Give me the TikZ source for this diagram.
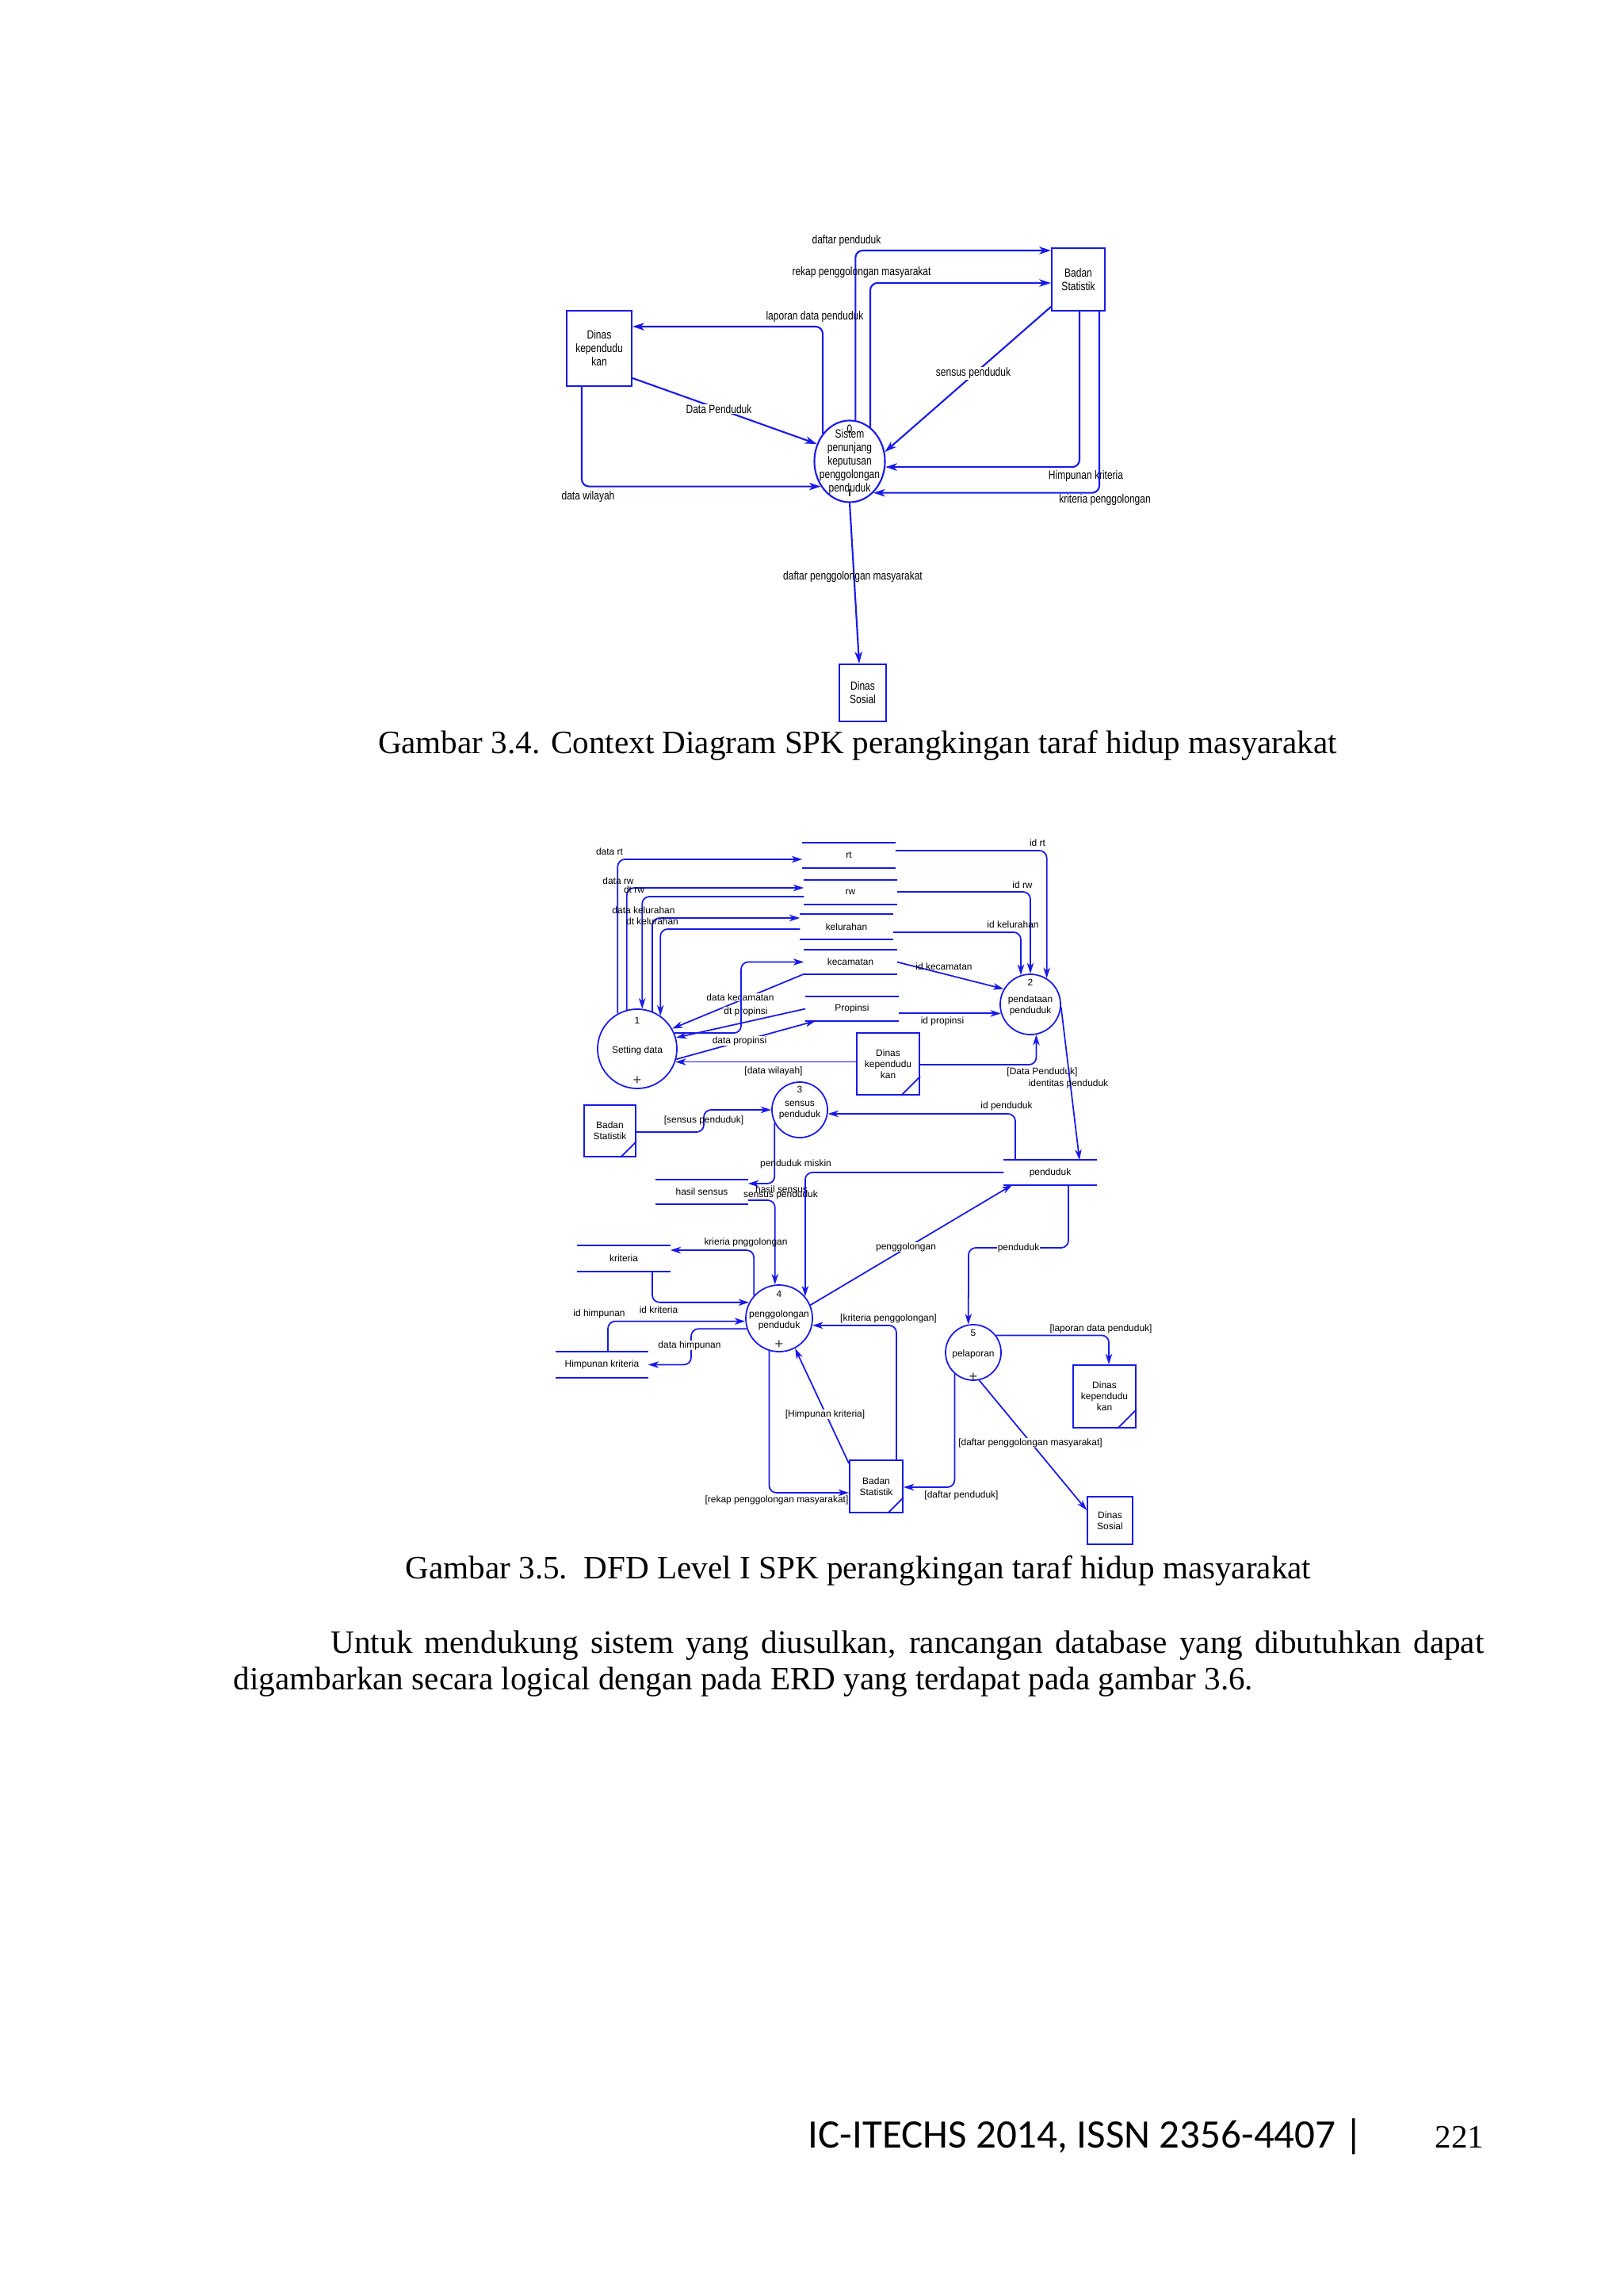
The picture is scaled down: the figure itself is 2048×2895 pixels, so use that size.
\documentclass[tikz,border=0pt]{standalone}
\usepackage{fontspec}
\setmainfont{Liberation Serif}
\newfontfamily\ctxf[FakeStretch=0.8]{Liberation Sans}
\newfontfamily\dfdf{Liberation Sans}
\newfontfamily\footf{Carlito}
\usetikzlibrary{arrows.meta,shapes.geometric}
\definecolor{dblue}{RGB}{25,25,235}
\tikzset{
 ctxt/.style={font={\ctxf\fontsize{4.27pt}{4.84pt}\selectfont},inner sep=0.2pt,align=center,text=black},
 dtxt/.style={font={\dfdf\fontsize{3.4pt}{3.98pt}\selectfont},inner sep=0.2pt,align=center,text=black},
 plus/.style={font={\dfdf\fontsize{5.2pt}{5.2pt}\selectfont},inner sep=0pt,text=black!80},
 cbox/.style={draw=dblue,line width=0.6pt,rectangle,inner sep=0pt,ctxt},
 cflow/.style={draw=dblue,line width=0.6pt,rounded corners=2.6pt,-{Stealth[length=4.2pt,width=2.7pt,inset=1.2pt]}},
 dbox/.style={draw=dblue,line width=0.5pt,rectangle,inner sep=0pt,dtxt},
 dproc/.style={draw=dblue,line width=0.5pt,circle,inner sep=0pt},
 dstore/.style={rectangle,inner sep=0pt,dtxt},
 dline/.style={draw=dblue,line width=0.5pt},
 dflow/.style={draw=dblue,line width=0.5pt,rounded corners=2.6pt,-{Stealth[length=3.8pt,width=2.4pt,inset=1.1pt]}},
 wl/.style={fill=white},
 captxt/.style={font={\fontsize{11.7pt}{14pt}\selectfont},inner sep=0pt},
}
\begin{document}
\begin{tikzpicture}[x=0.01cm,y=-0.01cm]
\path[use as bounding box] (0,0) rectangle (2048,2895);
\fill[white] (0,0) rectangle (2048,2895);

% ---------------- Context diagram ----------------
\node[cbox,minimum width=0.82cm,minimum height=0.95cm] (dk0) at (756,439.5) {Dinas\\kependudu\\kan};
\node[ellipse,draw=dblue,line width=0.6pt,minimum width=0.89cm,minimum height=1.03cm,inner sep=0pt] (p0) at (1072,582) {};
\node[ctxt] (p0t) at (1072,582.5) {Sistem\\penunjang\\keputusan\\penggolongan\\penduduk};
\node[ctxt] (p0n) at (1072,541) {0};
\draw[black!80,line width=0.35pt] ([yshift=0.09cm]p0.south) -- ([yshift=0.18cm]p0.south);
\node[cbox,minimum width=0.67cm,minimum height=0.79cm] (bs0) at (1360.5,352.5) {Badan\\Statistik};
\node[cbox,minimum width=0.59cm,minimum height=0.72cm] (ds0) at (1088.5,874) {Dinas\\Sosial};

\draw[cflow] (p0.82) |- (bs0.west |- 0,316);
\node[ctxt] (c1) at (1068,304) {daftar penduduk};
\draw[cflow] (p0.59) |- (bs0.west |- 0,357);
\node[ctxt] (c2) at (1087,344) {rekap penggolongan masyarakat};
\draw[cflow] (p0.134) |- (dk0.east |- 0,412);
\node[ctxt] (c3) at (1028,400) {laporan data penduduk};
\draw[cflow] (dk0.east |- 0,477) -- (p0.152);
\node[ctxt,wl] (c4) at (907,516) {Data Penduduk};
\draw[cflow] (dk0.south -| 734,0) |- (p0.221);
\node[ctxt] (c5) at (742,627) {data wilayah};
\draw[cflow] (bs0.west |- 0,387) -- (p0.15);
\node[ctxt,wl] (c6) at (1228,471) {sensus penduduk};
\draw[cflow] (bs0.south -| 1362,0) |- (p0.351);
\node[ctxt] (c7) at (1370,601) {Himpunan kriteria};
\draw[cflow] (bs0.south -| 1387,0) |- (p0.307);
\node[ctxt] (c8) at (1394,631) {kriteria penggolongan};
\draw[cflow] (p0.south) -- (ds0.north -| 1084,0);
\node[ctxt] (c9) at (1076,728) {daftar penggolongan masyarakat};

\node[captxt,anchor=base] (cap1) at (1082,950) {Gambar 3.4. Context Diagram SPK perangkingan taraf hidup masyarakat};

% ---------------- DFD level I ----------------
\node[dstore,minimum width=1.16cm,minimum height=0.30cm] (srt) at (1071,1079) {rt};
\node[dstore,minimum width=1.16cm,minimum height=0.29cm] (srw) at (1073,1125.5) {rw};
\node[dstore,minimum width=1.16cm,minimum height=0.30cm] (skel) at (1068,1169) {kelurahan};
\node[dstore,minimum width=1.16cm,minimum height=0.29cm] (skec) at (1073,1213.5) {kecamatan};
\node[dstore,minimum width=1.16cm,minimum height=0.29cm] (sprop) at (1075,1272.5) {Propinsi};
\node[dstore,minimum width=1.15cm,minimum height=0.29cm] (shas) at (885.5,1503.5) {hasil sensus};
\node[dstore,minimum width=1.16cm,minimum height=0.30cm] (spend) at (1325,1479) {penduduk};
\node[dstore,minimum width=1.16cm,minimum height=0.31cm] (skri) at (787,1587.5) {kriteria};
\node[dstore,minimum width=1.15cm,minimum height=0.31cm] (shim) at (759.5,1721.5) {Himpunan kriteria};
\foreach \s in {srt,srw,skel,skec,sprop,shas,spend,skri,shim}
  {\draw[dline] (\s.north west) -- (\s.north east) (\s.south west) -- (\s.south east);}

\node[dproc,minimum size=1.00cm] (p1) at (804,1323) {};
\node[dtxt] (p1a) at (804,1287) {1};
\node[dtxt] (p1b) at (804,1325) {Setting data};
\node[plus] (p1c) at (804,1363) {+};
\node[dproc,minimum size=0.76cm] (p2) at (1300,1267) {};
\node[dtxt] (p2a) at (1300,1239) {2};
\node[dtxt] (p2b) at (1300,1268) {pendataan\\penduduk};
\node[dproc,minimum size=0.70cm] (p3) at (1009,1400) {};
\node[dtxt] (p3a) at (1009,1374) {3};
\node[dtxt] (p3b) at (1009,1401) {sensus\\penduduk};
\node[dproc,minimum size=0.84cm] (p4) at (983,1663) {};
\node[dtxt] (p4a) at (983,1632) {4};
\node[dtxt] (p4b) at (983,1665.5) {penggolongan\\penduduk};
\node[plus] (p4c) at (983,1696) {+};
\node[dproc,minimum size=0.70cm] (p5) at (1228,1706) {};
\node[dtxt] (p5a) at (1228,1681) {5};
\node[dtxt] (p5b) at (1228,1708) {pelaporan};
\node[plus] (p5c) at (1228,1737) {+};

\node[dbox,minimum width=0.79cm,minimum height=0.78cm] (dk1) at (1120.5,1342) {Dinas\\kependudu\\kan};
\node[dbox,minimum width=0.65cm,minimum height=0.65cm] (bs1) at (769.5,1426.5) {Badan\\Statistik};
\node[dbox,minimum width=0.79cm,minimum height=0.79cm] (dk2) at (1393.5,1761.5) {Dinas\\kependudu\\kan};
\node[dbox,minimum width=0.57cm,minimum height=0.60cm] (ds1) at (1400.5,1918) {Dinas\\Sosial};
\node[dbox,minimum width=0.67cm,minimum height=0.66cm] (bs2) at (1105.5,1875) {Badan\\Statistik};
\foreach \e/\d in {dk1/0.24cm,bs1/0.20cm,dk2/0.24cm,bs2/0.20cm}
  {\draw[dline] ([xshift=-\d]\e.south east) -- ([yshift=\d]\e.south east);}

% process 1 flows
\draw[dflow] (p1.119) |- (srt.west |- 0,1084);
\node[dtxt] (d1) at (769,1074) {data rt};
\draw[dflow] (p1.105) |- (srw.west |- 0,1120);
\node[dtxt] (d2) at (780,1111) {data rw};
\draw[dflow] (srw.west |- 0,1131) -| (p1.83);
\node[dtxt] (d3) at (800,1122) {dt rw};
\draw[dflow] (p1.68) |- (skel.west |- 0,1158);
\node[dtxt] (d4) at (812,1148) {data kelurahan};
\draw[dflow] (skel.west |- 0,1172) -| (p1.55);
\node[dtxt] (d5) at (823,1162) {dt kelurahan};
\draw[dflow] (skec.south west) -- (p1.30);
\node[dtxt,wl] (d6) at (934,1258) {data kecamatan};
\draw[dflow] (sprop.west) -- (p1.16);
\node[dtxt,wl] (d7) at (941,1276) {dt propinsi};
\draw[dflow] (p1.345) -- ([xshift=0.13cm]sprop.south west);
\node[dtxt,wl] (d8) at (933,1313) {data propinsi};
\draw[dflow] (p1.23) -| (935,1213.5) -- (skec.west);
\draw[dflow] (dk1.west |- p1.341) -- (p1.341);
\node[dtxt] (d9) at (976,1351) {[data wilayah]};

% process 2 flows
\draw[dflow] (srt.east |- 0,1073) -| (p2.58);
\node[dtxt] (d10) at (1309,1063) {id rt};
\draw[dflow] (srw.east |- 0,1125) -| (p2.north);
\node[dtxt] (d11) at (1290,1116) {id rw};
\draw[dflow] (skel.east |- 0,1176) -| (p2.108);
\node[dtxt] (d12) at (1278,1166) {id kelurahan};
\draw[dflow] (skec.east) -- (p2.150);
\node[dtxt] (d13) at (1191,1219) {id kecamatan};
\draw[dflow] (sprop.east |- p2.197) -- (p2.197);
\node[dtxt] (d14) at (1189,1288) {id propinsi};
\draw[dflow] (dk1.east |- 0,1343) -| (p2.281);
\node[dtxt] (d15) at (1315,1352) {[Data Penduduk]};
\draw[dflow] (p2.355) -- (spend.north -| 1362,0);
\node[dtxt] (d16) at (1348,1367) {identitas penduduk};

% process 3 flows
\draw[dflow] (spend.north -| 1281,0) |- (p3.352);
\node[dtxt] (d17) at (1270,1395) {id penduduk};
\draw[dflow] (bs1.east |- 0,1428) -| (888,1400) -- (p3.west);
\node[dtxt] (d18) at (888,1413) {[sensus penduduk]};
\draw[dflow] (p3.208) |- (shas.east |- 0,1493);
\node[dtxt] (d19) at (985,1507) {sensus penduduk};
\node[dtxt] (d20) at (986,1500) {hasil sensus};

% process 4 flows
\draw[dflow] (spend.west) -| (p4.40);
\node[dtxt] (d21) at (1004,1468) {penduduk miskin};
\draw[dflow] (p4.23) -- ([xshift=0.11cm]spend.south west);
\node[dtxt,wl] (d22) at (1143,1573) {penggolongan};
\draw[dflow] (shas.east |- 0,1514) -| (p4.97);
\draw[dflow] (p4.138) |- (skri.east |- 0,1577);
\node[dtxt] (d23) at (941,1567) {krieria pnggolongan};
\draw[dflow] (skri.south -| 823,0) |- (p4.152);
\node[dtxt] (d24) at (831,1652) {id kriteria};
\draw[dflow] (shim.north -| 767,0) |- (p4.185);
\node[dtxt] (d25) at (756,1657) {id himpunan};
\draw[dflow] (p4.198) -| (872,1721.5) -- (shim.east);
\node[dtxt,wl] (d26) at (870,1697) {data himpunan};
\draw[dflow] (bs2.north -| 1131,0) |- (p4.348);
\node[dtxt] (d27) at (1121,1663) {[kriteria penggolongan]};
\draw[dflow] ([yshift=-0.05cm]bs2.north west) -- (p4.298);
\node[dtxt,wl] (d28) at (1041,1784) {[Himpunan kriteria]};
\draw[dflow] (p4.253) |- (bs2.west |- 0,1883);
\node[dtxt] (d29) at (980,1892) {[rekap penggolongan masyarakat]};

% process 5 flows
\draw[dflow] (spend.south -| 1348,0) |- (1222,1574) -- (p5.100);
\node[dtxt,wl] (d30) at (1285,1574) {penduduk};
\draw[dflow] (p5.37) -| (dk2.north -| 1399,0);
\node[dtxt] (d31) at (1389,1676) {[laporan data penduduk]};
\draw[dflow] (p5.282) -- (ds1.west |- 0,1905);
\node[dtxt,wl] (d32) at (1300,1820) {[daftar penggolongan masyarakat]};
\draw[dflow] (p5.229) |- (bs2.east |- 0,1876);
\node[dtxt] (d33) at (1213,1886) {[daftar penduduk]};

\node[captxt,anchor=base] (cap2) at (1083,1991) {Gambar 3.5.\ \ DFD Level I SPK perangkingan taraf hidup masyarakat};

% ---------------- text ----------------
\node[captxt,anchor=base west] (par1) at (417,2085) {\makebox[14.54cm][s]{Untuk mendukung sistem yang diusulkan, rancangan database yang dibutuhkan dapat}};
\node[captxt,anchor=base west] (par2) at (294,2131) {digambarkan secara logical dengan pada ERD yang terdapat pada gambar 3.6.};
\node[anchor=base west,inner sep=0pt,font={\footf\fontsize{14.5pt}{16pt}\selectfont}] (foot) at (1019,2709) {IC-ITECHS 2014, ISSN 2356-4407 |};
\node[captxt,anchor=base west] (pg) at (1810,2709) {221};
\end{tikzpicture}
\end{document}
